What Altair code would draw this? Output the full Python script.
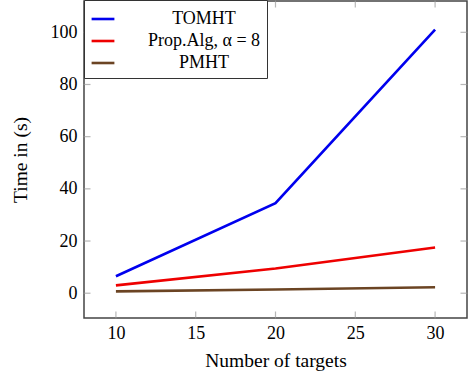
import altair as alt
import pandas as pd

targets = [10, 20, 30]
tomht = [6.5, 34.5, 101.0]
prop_alg = [3.0, 9.5, 17.5]
pmht = [0.7, 1.4, 2.3]
series_names = ["TOMHT", "Prop.Alg, α = 8", "PMHT"]
series_colors = ["#0000ee", "#ee0000", "#6b4423"]
x_ticks = [10, 15, 20, 25, 30]
y_ticks = [0, 20, 40, 60, 80, 100]

rows = []
for name, vals in zip(series_names, [tomht, prop_alg, pmht]):
    for t, v in zip(targets, vals):
        rows.append({"targets": t, "time": v, "method": name})
df = pd.DataFrame(rows)

W, H = 383, 317
FONT = "Liberation Serif"
TICK = "#999999"

xs = alt.Scale(domain=[8, 32], nice=False, zero=False)
ys = alt.Scale(domain=[-9.5, 112], nice=False, zero=False)

x_axis = alt.Axis(values=x_ticks, title="Number of targets", grid=False,
                  domain=False, ticks=False, labelPadding=6, titlePadding=9)
y_axis = alt.Axis(values=y_ticks, title="Time in (s)", grid=False,
                  domain=False, ticks=False, labelPadding=7, titlePadding=20)

lines = alt.Chart(df).mark_line(strokeWidth=2.6, clip=True).encode(
    x=alt.X("targets:Q", scale=xs, axis=x_axis),
    y=alt.Y("time:Q", scale=ys, axis=y_axis),
    color=alt.Color("method:N", sort=series_names,
                    scale=alt.Scale(domain=series_names, range=series_colors),
                    legend=alt.Legend(title=None, orient="none", legendX=0, legendY=-1,
                                      symbolType="stroke", symbolSize=520,
                                      symbolStrokeWidth=2.6, strokeColor="#333333",
                                      fillColor="white", padding=6, rowPadding=0,
                                      labelFontSize=18, labelFont=FONT,
                                      labelColor="black", labelAlign="center",
                                      labelOffset=88, labelLimit=300)),
    order=alt.Order("targets:Q"),
)

xt = pd.DataFrame({"v": x_ticks})
yt = pd.DataFrame({"v": y_ticks})

xtick_bottom = alt.Chart(xt).mark_tick(color=TICK, thickness=1.2, size=7, orient="vertical").encode(
    x=alt.X("v:Q", scale=xs, axis=None), y=alt.value(H - 3))
xtick_top = alt.Chart(xt).mark_tick(color=TICK, thickness=1.2, size=7, orient="vertical").encode(
    x=alt.X("v:Q", scale=xs, axis=None), y=alt.value(3))
ytick_left = alt.Chart(yt).mark_tick(color=TICK, thickness=1.2, size=7, orient="horizontal").encode(
    y=alt.Y("v:Q", scale=ys, axis=None), x=alt.value(3))
ytick_right = alt.Chart(yt).mark_tick(color=TICK, thickness=1.2, size=7, orient="horizontal").encode(
    y=alt.Y("v:Q", scale=ys, axis=None), x=alt.value(W - 3))

chart = alt.layer(
    lines, xtick_bottom, xtick_top, ytick_left, ytick_right
).resolve_axis(x="independent", y="independent").properties(
    width=W, height=H,
    autosize=alt.AutoSizeParams(type="none"),
    padding={"left": 84, "top": 1, "right": 7, "bottom": 58},
).configure_view(stroke="#444444", strokeWidth=1.5).configure_axis(
    labelFont=FONT, titleFont=FONT, labelFontSize=18, titleFontSize=19.5,
    labelColor="black", titleColor="black", titleFontWeight="normal",
)

chart.save("out.html", embed_options={"renderer": "svg", "actions": False})
